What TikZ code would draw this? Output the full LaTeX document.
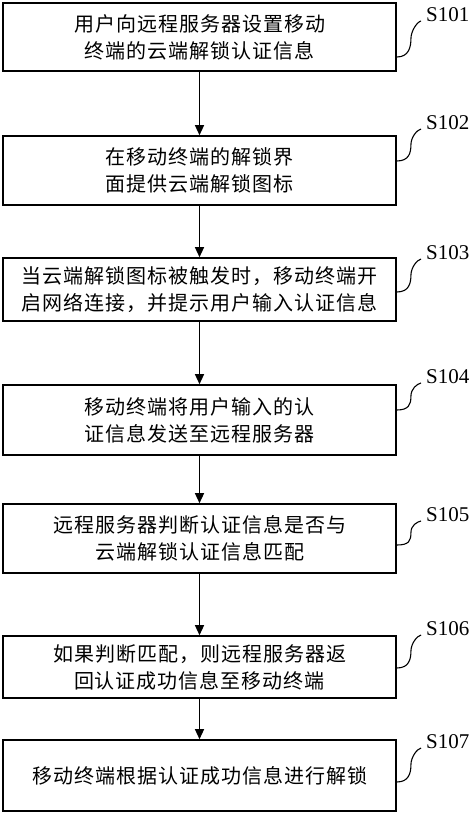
\documentclass[tikz,border=0pt]{standalone}
\usepackage{fontspec}
\setmainfont{Liberation Serif}
\newfontfamily\cjk[LetterSpace=5]{Noto Sans CJK SC}
\usetikzlibrary{arrows.meta,calc}
\begin{document}
\begin{tikzpicture}[x=1pt,y=-1pt,
  stepbox/.style={draw,line width=1.6pt,minimum width=393pt,align=center,
    font=\cjk\fontsize{20}{27}\selectfont,inner sep=0pt},
  flow/.style={line width=1.3pt,-{Triangle[length=10pt,width=9pt]}},
  tag/.style={anchor=west,font=\fontsize{21}{22}\selectfont,inner sep=0pt},
  hook/.style={line width=1.1pt}]
\useasboundingbox (0,0) rectangle (474,816);
\node[stepbox,minimum height=68pt] (b1) at (199.5,37) {用户向远程服务器设置移动\\终端的云端解锁认证信息};
\node[stepbox,minimum height=69pt] (b2) at (199.5,170.5) {在移动终端的解锁界\\面提供云端解锁图标};
\node[stepbox,minimum height=63pt] (b3) at (199.5,289.5) {当云端解锁图标被触发时，移动终端开\\启网络连接，并提示用户输入认证信息};
\node[stepbox,minimum height=70pt] (b4) at (199.5,420) {移动终端将用户输入的认\\证信息发送至远程服务器};
\node[stepbox,minimum height=69pt] (b5) at (199.5,538.5) {远程服务器判断认证信息是否与\\云端解锁认证信息匹配};
\node[stepbox,minimum height=62pt] (b6) at (199.5,667) {如果判断匹配，则远程服务器返\\回认证成功信息至移动终端};
\node[stepbox,minimum height=71pt] (b7) at (199.5,775.5) {移动终端根据认证成功信息进行解锁};
\foreach \a/\b in {b1/b2,b2/b3,b3/b4,b4/b5,b5/b6,b6/b7}
  \draw[flow] (\a.south) -- (\b.north);
\foreach \i/\ya/\yl in {1/57/15,2/161/123,3/292/253,4/410/377,5/545/515,6/668/629,7/782/742}{
  \node[tag] (l\i) at (426,\yl) {S10\i};
  \coordinate (a\i) at (b\i.east |- 0,\ya);
  \coordinate (e\i) at ($(l\i.west)+(-5,6)$);
  \coordinate (m\i) at ($(a\i)!0.5!(e\i)+(2,0)$);
  \draw[hook] (a\i) .. controls +(12,0) and +(0,8) .. (m\i) .. controls +(0,-8) and +(-4,1) .. (e\i);
}
\end{tikzpicture}
\end{document}
